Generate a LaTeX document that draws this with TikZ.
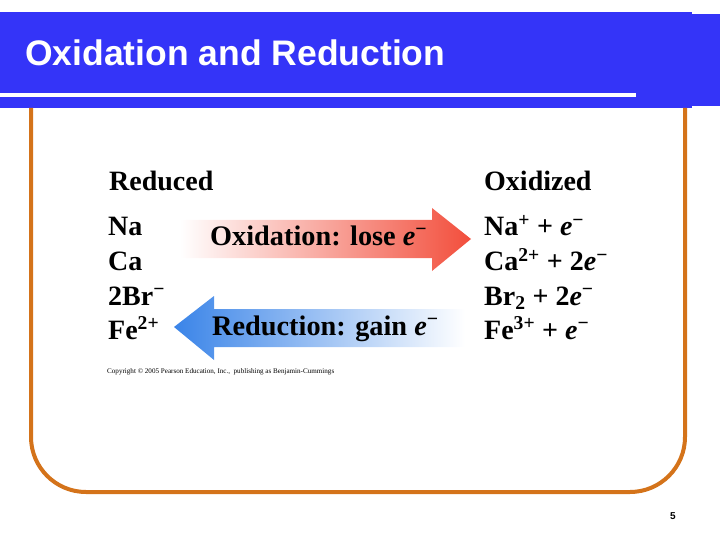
\documentclass[tikz,border=0pt]{standalone}
\usepackage{fontspec}
\setmainfont{Liberation Serif}
\newfontfamily\hsans{Liberation Sans}
\definecolor{hdrblue}{HTML}{3434F8}
\definecolor{frameorange}{HTML}{D4731A}
\definecolor{oxred}{HTML}{F24E3C}
\definecolor{redblue}{HTML}{3A84E8}
\newcommand\elec{\textit{e}\textsuperscript{\char"2212}}
\tikzset{
  chem/.style={anchor=base west, inner sep=0pt, font=\bfseries\fontsize{28}{34}\selectfont},
  arrowtext/.style={anchor=base west, inner sep=0pt, font=\bfseries\fontsize{28.3}{33}\selectfont}
}
\begin{document}
\begin{tikzpicture}[x=1pt,y=-1pt]
\useasboundingbox (0,0) rectangle (720,540);
% header
\fill[hdrblue] (0,12) rectangle (692,108);
\fill[hdrblue] (692,14) rectangle (720,106);
\fill[white] (0,93) rectangle (636,97);
\node[anchor=base west, inner sep=0pt, text=white, font=\hsans\bfseries\fontsize{35.5}{40}\selectfont] (title) at (25,66) {Oxidation and Reduction};
% frame
\draw[frameorange, line width=4pt, rounded corners=55pt] (31,108) -- (31,492) -- (685,492) -- (685,108);
% arrows
\shade[left color=white, middle color=oxred!55!white, right color=oxred]
  (180,220) -- (432,220) -- (432,208) -- (471,239) -- (432,271) -- (432,258) -- (180,258) -- cycle;
\shade[left color=redblue, middle color=redblue!75!white, right color=white]
  (465,309) -- (214,309) -- (214,296) -- (174,327) -- (214,360) -- (214,347) -- (465,347) -- cycle;
\node[arrowtext] (oxtext) at (210,245) {Oxidation: lose \elec};
\node[arrowtext] (redtext) at (212,335) {Reduction: gain \elec};
% left column
\node[chem] (reduced) at (109,190.7) {Reduced};
\node[chem] (na) at (108,235.7) {Na};
\node[chem] (ca) at (108,270.5) {Ca};
\node[chem] (br) at (108,305) {2Br\textsuperscript{\char"2212}};
\node[chem] (fe) at (108,339) {Fe\textsuperscript{2+}};
% right column
\node[chem] (oxidized) at (484,190.7) {Oxidized};
\node[chem] (naplus) at (484,235.7) {Na\textsuperscript{+} + \elec};
\node[chem] (caplus) at (484,270.5) {Ca\textsuperscript{2+} + 2\elec};
\node[chem] (brtwo) at (484,305) {Br\textsubscript{2} + 2\elec};
\node[chem] (feplus) at (484,339) {Fe\textsuperscript{3+} + \elec};
% copyright
\node[anchor=base west, inner sep=0pt, font=\fontsize{7.1}{8.5}\selectfont] (copy) at (107,373) {Copyright \textcopyright{} 2005 Pearson Education, Inc.,\ \ publishing as Benjamin-Cummings};
% page number
\node[inner sep=0pt, font=\hsans\bfseries\fontsize{10}{12}\selectfont] (pagenum) at (673,516) {5};
\end{tikzpicture}
\end{document}
